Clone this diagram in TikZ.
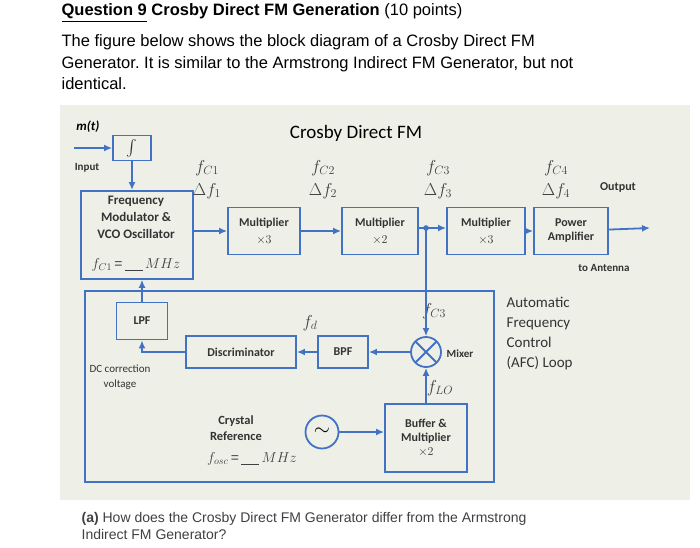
\documentclass[tikz,border=0pt]{standalone}
\usepackage{amsmath,amssymb}
\usepackage{fontspec}
\setmainfont{Liberation Sans}
\newfontfamily\calfont{Carlito}
\usetikzlibrary{positioning,arrows.meta}
\definecolor{lineblue}{RGB}{66,114,196}
\definecolor{bgbox}{RGB}{238,240,232}
\begin{document}
\begin{tikzpicture}[x=1pt,y=-1pt,>={Latex[length=8pt,width=7pt]},semithick,
    blk/.style={draw=lineblue,line width=1.8pt,minimum width=#1,align=center,
                font=\calfont\bfseries\fontsize{12}{14}\selectfont,text=black!80},
    blk/.default=72pt,
    sig/.style={->,draw=lineblue,line width=1.8pt},
    flab/.style={font=\fontsize{17}{17}\selectfont,text=black!75},
    note/.style={font=\calfont\fontsize{11}{13}\selectfont,text=black!80,align=center}]
  \useasboundingbox (0,0) rectangle (700,547);
  \fill[bgbox] (60,105) rectangle (690,500);

  % heading and question text
  \node[anchor=west,font=\bfseries\fontsize{16.5}{18}\selectfont] (head) at (58,13)
    {\underline{Question 9} Crosby Direct FM Generation \mdseries(10 points)};
  \node[anchor=north west,align=left,font=\fontsize{16.5}{21.5}\selectfont] (intro) at (58,31)
    {The figure below shows the block diagram of a Crosby Direct FM\\
     Generator.\ It is similar to the Armstrong Indirect FM Generator, but not\\
     identical.};
  \node[anchor=north west,align=left,font=\fontsize{14}{17}\selectfont,text=black!75] (qa) at (78,509)
    {\textbf{(a)} How does the Crosby Direct FM Generator differ from the Armstrong\\
     Indirect FM Generator?};

  % forward path
  \node[font=\calfont\fontsize{19}{19}\selectfont] (title) at (356,133) {Crosby Direct FM};
  \node[font=\calfont\bfseries\itshape\fontsize{13}{13}\selectfont] (mt) at (88,127) {m(t)};
  \node[blk=38pt,minimum height=25pt,font=\fontsize{16}{16}\selectfont] (int) at (132,148) {$\int$};
  \node[note,font=\calfont\bfseries\fontsize{11}{12}\selectfont] (inp) at (87,168) {Input};
  \coordinate (src) at (74,148);
  \node[blk=112pt,minimum height=88pt,anchor=north west] (fm) at (80,190) {};
  \node[note,font=\calfont\bfseries\fontsize{13}{17}\selectfont] (fmtxt) at (136,217)
    {Frequency\\Modulator \&\\VCO Oscillator};
  \node[flab,font=\fontsize{14}{14}\selectfont] (fc1eq) at (136,265)
    {$f_{C1}$\,=\,\underline{\hspace{18pt}}\,$MHz$};
  \node[blk,minimum height=47pt] (mul1) at (264,231) {Multiplier\\[3pt]\mdseries$\times3$};
  \node[blk,minimum height=47pt,minimum width=76pt] (mul2) at (380,231) {Multiplier\\[3pt]\mdseries$\times2$};
  \node[blk,minimum height=47pt,minimum width=78pt] (mul3) at (486,231) {Multiplier\\[3pt]\mdseries$\times3$};
  \node[blk=74pt,minimum height=47pt] (pa) at (571,231) {Power\\Amplifier};
  \coordinate (out) at (650,228);
  \coordinate (tap) at (426,228);
  \node[note,font=\calfont\bfseries\fontsize{12}{12}\selectfont] (outl) at (618,188) {Output};
  \node[note,font=\calfont\bfseries\fontsize{11}{12}\selectfont] (ant) at (604,268) {to Antenna};

  \foreach \x/\i in {207/1,323/2,438/3,556/4}{
    \node[flab] (fc\i) at (\x,168) {$f_{C\i}$};
    \node[flab] (df\i) at (\x,191) {$\Delta f_{\i}$};
  }

  \draw[sig] (src) -- (int);
  \draw[sig] (int) -- (fm.north -| int);
  \draw[sig] (fm.east |- mul1) -- (mul1);
  \draw[sig] (mul1) -- (mul2);
  \draw[sig] (mul2.east |- tap) -- (mul3.west |- tap);
  \draw[sig] (mul3) -- (pa);
  \draw[sig] (pa) -- (out);
  \fill[lineblue] (tap) circle (2.8pt);

  % AFC loop
  \node[draw=lineblue,line width=1.8pt,minimum width=409pt,minimum height=191pt,anchor=north west] (afc) at (84,290) {};
  \node[blk=51pt,minimum height=37pt] (lpf) at (142,321) {LPF};
  \node[blk=110pt,minimum height=32pt] (disc) at (241,352) {Discriminator};
  \node[blk=50pt,minimum height=32pt] (bpf) at (343,352) {BPF};
  \node[draw=lineblue,line width=1.8pt,circle,minimum size=30pt,path picture={
      \draw[lineblue,line width=1.8pt] (path picture bounding box.north west) -- (path picture bounding box.south east)
        (path picture bounding box.north east) -- (path picture bounding box.south west);}] (mix) at (426,352) {};
  \node[note,font=\calfont\bfseries\fontsize{11}{12}\selectfont] (mixl) at (460,354) {Mixer};
  \node[blk=82pt,minimum height=68pt] (buf) at (426,438) {Buffer \&\\Multiplier\\\mdseries$\times2$};
  \node[draw=lineblue,line width=1.8pt,circle,minimum size=33pt,font=\huge] (osc) at (322,432) {$\sim$};
  \node[note,font=\calfont\bfseries\fontsize{12.5}{16}\selectfont] (xtal) at (236,428) {Crystal\\Reference};
  \node[flab,font=\fontsize{14}{14}\selectfont] (fosc) at (252,459)
    {$f_{osc}$\,=\,\underline{\hspace{18pt}}\,$MHz$};
  \node[note,font=\calfont\fontsize{11}{15}\selectfont] (dc) at (120,377) {DC correction\\voltage};
  \node[flab] (fd) at (310,323) {$f_d$};
  \node[flab] (fc3b) at (434,311) {$f_{C3}$};
  \node[flab] (flo) at (440,388) {$f_{LO}$};
  \node[anchor=north west,align=left,font=\calfont\fontsize{15}{20}\selectfont,text=black!80] (afcl) at (503,293)
    {Automatic\\Frequency\\Control\\(AFC) Loop};

  \draw[sig] (tap) -- (mix);
  \draw[sig] (mix) -- (bpf);
  \draw[sig] (bpf) -- (disc);
  \draw[sig] (disc.west) -| (lpf.south);
  \draw[sig] (lpf.north) -- (fm.south -| lpf);
  \draw[sig] (osc) -- (buf.west |- osc);
  \draw[sig] (buf.north) -- (mix);
\end{tikzpicture}
\end{document}
